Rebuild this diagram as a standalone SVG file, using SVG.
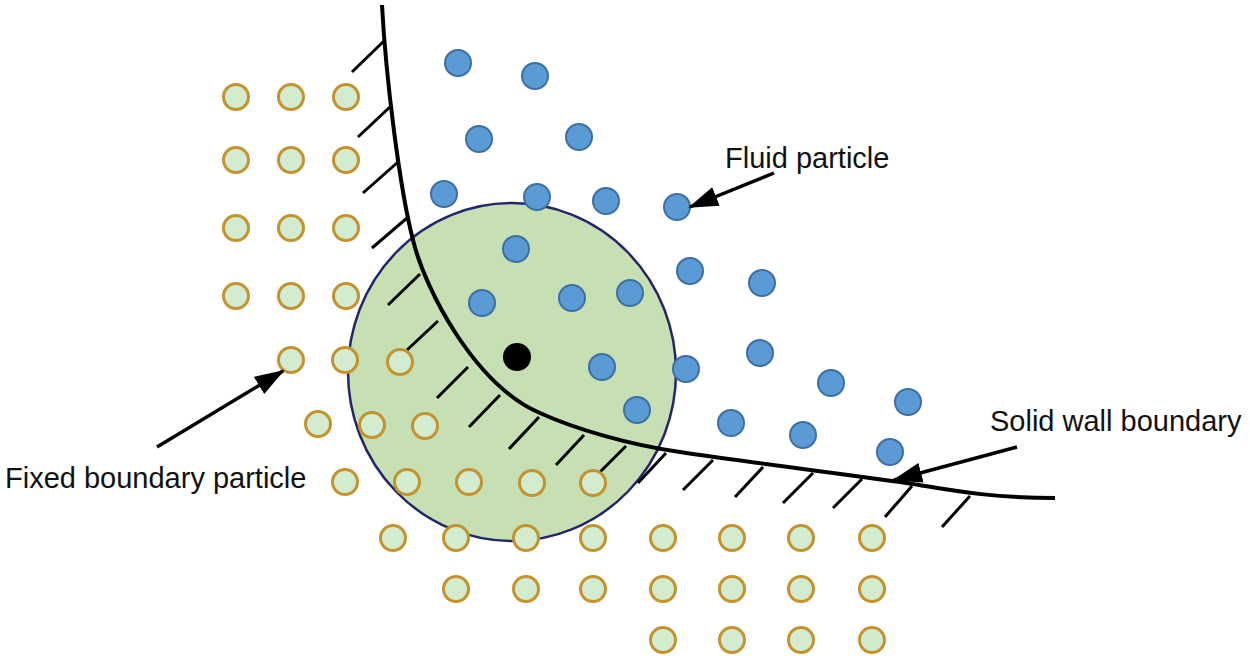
<svg xmlns="http://www.w3.org/2000/svg" width="1250" height="663" viewBox="0 0 1250 663">
<defs>
<style>
.fx{fill:#d3ebcf;stroke:#c4932e;stroke-width:3}
.fl{fill:#5b9bd5;stroke:#3d6fa3;stroke-width:2}
.tk{stroke:#000;stroke-width:3;stroke-linecap:butt}
.ar{stroke:#000;stroke-width:3.5;fill:none}
.lb{font-family:"Liberation Sans",Arial,sans-serif;font-size:29px;fill:#111}
</style>
<marker id="ah" markerUnits="userSpaceOnUse" markerWidth="30" markerHeight="24" viewBox="0 0 30 24" refX="28" refY="12" orient="auto">
<path d="M0,2 L30,12 L0,22 Z" fill="#000"/>
</marker>
</defs>
<rect width="1250" height="663" fill="#fff"/>
<g id="support-domain">
<ellipse cx="512" cy="372" rx="164" ry="169" fill="#c6e0b4" stroke="#25256a" stroke-width="2.5"/>
</g>
<g id="wall">
<path d="M382,5 C386,80 400,190 413,240 C425,290 475,385 540,413 C575,429 630,445 680,452 C760,464 860,476 913,484 C950,490 990,498 1055,498" fill="none" stroke="#000" stroke-width="4"/>
<g id="hatch">
<line class="tk" x1="385" y1="40" x2="352" y2="72"/>
<line class="tk" x1="391" y1="106" x2="358" y2="137"/>
<line class="tk" x1="398" y1="162" x2="363" y2="193"/>
<line class="tk" x1="407" y1="218" x2="372" y2="248"/>
<line class="tk" x1="420" y1="274" x2="388" y2="305"/>
<line class="tk" x1="438" y1="321" x2="407" y2="350"/>
<line class="tk" x1="468" y1="367" x2="437" y2="398"/>
<line class="tk" x1="500" y1="395" x2="469" y2="427"/>
<line class="tk" x1="539" y1="417" x2="509" y2="449"/>
<line class="tk" x1="584" y1="435" x2="556" y2="465"/>
<line class="tk" x1="626" y1="446" x2="600" y2="472"/>
<line class="tk" x1="666" y1="453" x2="638" y2="483"/>
<line class="tk" x1="713" y1="460" x2="683" y2="490"/>
<line class="tk" x1="763" y1="467" x2="735" y2="497"/>
<line class="tk" x1="813" y1="473" x2="783" y2="503"/>
<line class="tk" x1="862" y1="479" x2="833" y2="508"/>
<line class="tk" x1="912" y1="486" x2="885" y2="517"/>
<line class="tk" x1="970" y1="496" x2="942" y2="527"/>
</g>
</g>
<g id="fixed-particles">
<circle class="fx" cx="236" cy="97" r="12.5"/><circle class="fx" cx="291" cy="97" r="12.5"/><circle class="fx" cx="346" cy="97" r="12.5"/>
<circle class="fx" cx="236" cy="160" r="12.5"/><circle class="fx" cx="291" cy="160" r="12.5"/><circle class="fx" cx="346" cy="160" r="12.5"/>
<circle class="fx" cx="236" cy="228" r="12.5"/><circle class="fx" cx="291" cy="228" r="12.5"/><circle class="fx" cx="346" cy="228" r="12.5"/>
<circle class="fx" cx="236" cy="296" r="12.5"/><circle class="fx" cx="291" cy="296" r="12.5"/><circle class="fx" cx="346" cy="296" r="12.5"/>
<circle class="fx" cx="291" cy="360" r="12.5"/><circle class="fx" cx="345" cy="360" r="12.5"/><circle class="fx" cx="400" cy="362" r="12.5"/>
<circle class="fx" cx="318" cy="424" r="12.5"/><circle class="fx" cx="372" cy="425" r="12.5"/><circle class="fx" cx="425" cy="426" r="12.5"/>
<circle class="fx" cx="345" cy="482" r="12.5"/><circle class="fx" cx="407" cy="482" r="12.5"/><circle class="fx" cx="469" cy="482" r="12.5"/><circle class="fx" cx="532" cy="483" r="12.5"/><circle class="fx" cx="593" cy="483" r="12.5"/>
<circle class="fx" cx="393" cy="538" r="12.5"/><circle class="fx" cx="456" cy="538" r="12.5"/><circle class="fx" cx="526" cy="538" r="12.5"/><circle class="fx" cx="593" cy="538" r="12.5"/><circle class="fx" cx="663" cy="538" r="12.5"/><circle class="fx" cx="732" cy="538" r="12.5"/><circle class="fx" cx="801" cy="538" r="12.5"/><circle class="fx" cx="872" cy="538" r="12.5"/>
<circle class="fx" cx="456" cy="589" r="12.5"/><circle class="fx" cx="526" cy="589" r="12.5"/><circle class="fx" cx="593" cy="589" r="12.5"/><circle class="fx" cx="663" cy="589" r="12.5"/><circle class="fx" cx="732" cy="589" r="12.5"/><circle class="fx" cx="801" cy="589" r="12.5"/><circle class="fx" cx="872" cy="589" r="12.5"/>
<circle class="fx" cx="663" cy="640" r="12.5"/><circle class="fx" cx="732" cy="640" r="12.5"/><circle class="fx" cx="801" cy="640" r="12.5"/><circle class="fx" cx="872" cy="640" r="12.5"/>
</g>
<g id="fluid-particles">
<circle class="fl" cx="458" cy="63" r="13"/><circle class="fl" cx="535" cy="76" r="13"/>
<circle class="fl" cx="479" cy="139" r="13"/><circle class="fl" cx="579" cy="137" r="13"/>
<circle class="fl" cx="444" cy="194" r="13"/><circle class="fl" cx="537" cy="197" r="13"/><circle class="fl" cx="606" cy="201" r="13"/><circle class="fl" cx="677" cy="207" r="13"/>
<circle class="fl" cx="516" cy="249" r="13"/>
<circle class="fl" cx="482" cy="303" r="13"/><circle class="fl" cx="572" cy="298" r="13"/><circle class="fl" cx="630" cy="293" r="13"/><circle class="fl" cx="690" cy="271" r="13"/><circle class="fl" cx="762" cy="283" r="13"/>
<circle class="fl" cx="602" cy="367" r="13"/><circle class="fl" cx="686" cy="369" r="13"/><circle class="fl" cx="760" cy="353" r="13"/>
<circle class="fl" cx="637" cy="410" r="13"/><circle class="fl" cx="831" cy="383" r="13"/><circle class="fl" cx="908" cy="402" r="13"/>
<circle class="fl" cx="731" cy="423" r="13"/><circle class="fl" cx="803" cy="435" r="13"/><circle class="fl" cx="890" cy="452" r="13"/>
</g>
<g id="target-particle">
<circle cx="517" cy="357" r="14" fill="#000"/>
</g>
<g id="connectors">
<line class="ar" x1="774" y1="173" x2="690" y2="207" marker-end="url(#ah)"/>
<line class="ar" x1="157" y1="447" x2="283" y2="371" marker-end="url(#ah)"/>
<line class="ar" x1="1017" y1="447" x2="894" y2="480" marker-end="url(#ah)"/>
</g>
<g id="labels">
<text class="lb" x="725" y="168">Fluid particle</text>
<text class="lb" x="990" y="431">Solid wall boundary</text>
<text class="lb" x="5" y="488">Fixed boundary particle</text>
</g>
</svg>
